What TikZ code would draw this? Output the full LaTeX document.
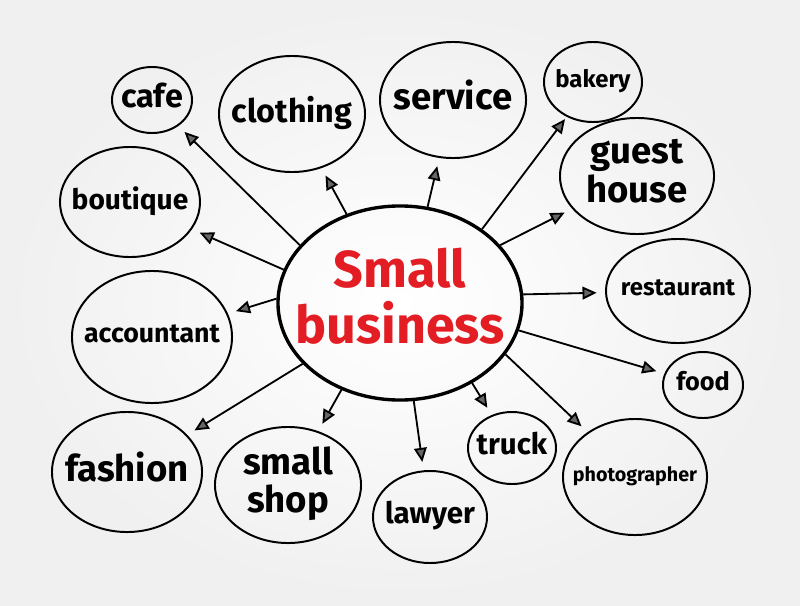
\documentclass[tikz,border=0pt]{standalone}
\usepackage{fontspec}
\setmainfont{Fira Sans}
\usetikzlibrary{shapes.geometric, arrows.meta}
\definecolor{marker}{RGB}{226,30,36}
\newcommand{\say}[1]{\makebox[0pt]{\begin{tabular}{@{}c@{}}#1\end{tabular}}}
\tikzset{
    leaf/.style n args={3}{draw, ellipse, line width=1.4pt, inner sep=0pt, minimum width=#1*0.05cm, minimum height=#2*0.05cm, font=\fontsize{#3}{#3}\selectfont\bfseries},
    hub/.style={draw, ellipse, line width=2.4pt, inner sep=0pt, minimum width=6.1cm, minimum height=4.85cm, text=marker, font=\fontsize{37}{33}\selectfont\bfseries},
    arrow/.style={line width=1.3pt, -{Triangle[length=10pt, width=9pt, fill=black!60]}, shorten >=6pt}
}
\begin{document}
\begin{tikzpicture}[x=0.025cm, y=-0.025cm]
\shade[inner color=white, outer color=black!6] (0,0) rectangle (800,605);
\useasboundingbox (0,0) rectangle (800,605);
\node[hub] (hub) at (400,303) {\say{Small\\business}};
\node[leaf={40}{33}{23}] (cafe) at (152,100) {\say{cafe}};
\node[leaf={73}{58}{23}] (clothing) at (292,114) {\say{clothing}};
\node[leaf={73}{58}{26}] (service) at (453,100) {\say{service}};
\node[leaf={49}{40}{17}] (bakery) at (593,82) {\say{bakery}};
\node[leaf={77}{58}{26}] (guest) at (637,176) {\say{guest\\house}};
\node[leaf={72}{52}{17}] (restaurant) at (678,291) {\say{restaurant}};
\node[leaf={40}{33}{18}] (food) at (703,385) {\say{food}};
\node[leaf={72}{58}{14}] (photo) at (635,477) {\say{photographer}};
\node[leaf={44}{36}{21}] (truck) at (512,448) {\say{truck}};
\node[leaf={57}{46}{21}] (lawyer) at (430,517) {\say{lawyer}};
\node[leaf={73}{58}{26}] (shop) at (288,485) {\say{small\\shop}};
\node[leaf={75}{60}{26}] (fashion) at (127,472) {\say{fashion}};
\node[leaf={80}{66}{19}] (accountant) at (152,337) {\say{accountant}};
\node[leaf={70}{55}{20}] (boutique) at (130,202) {\say{boutique}};
\draw[arrow] (hub.150) -- (cafe);
\draw[arrow] (hub.121) -- (clothing);
\draw[arrow] (hub.74) -- (service);
\draw[arrow, shorten >=2pt] (hub.42) -- (bakery);
\draw[arrow] (hub.30) -- (guest);
\draw[arrow] (hub.4) -- (restaurant);
\draw[arrow] (hub.347) -- (food);
\draw[arrow] (hub.334) -- (photo);
\draw[arrow] (hub.312) -- (truck);
\draw[arrow] (hub.278) -- (lawyer);
\draw[arrow] (hub.236) -- (shop);
\draw[arrow] (hub.212) -- (fashion);
\draw[arrow] (hub.178) -- (accountant);
\draw[arrow] (hub.164) -- (boutique);
\end{tikzpicture}
\end{document}
